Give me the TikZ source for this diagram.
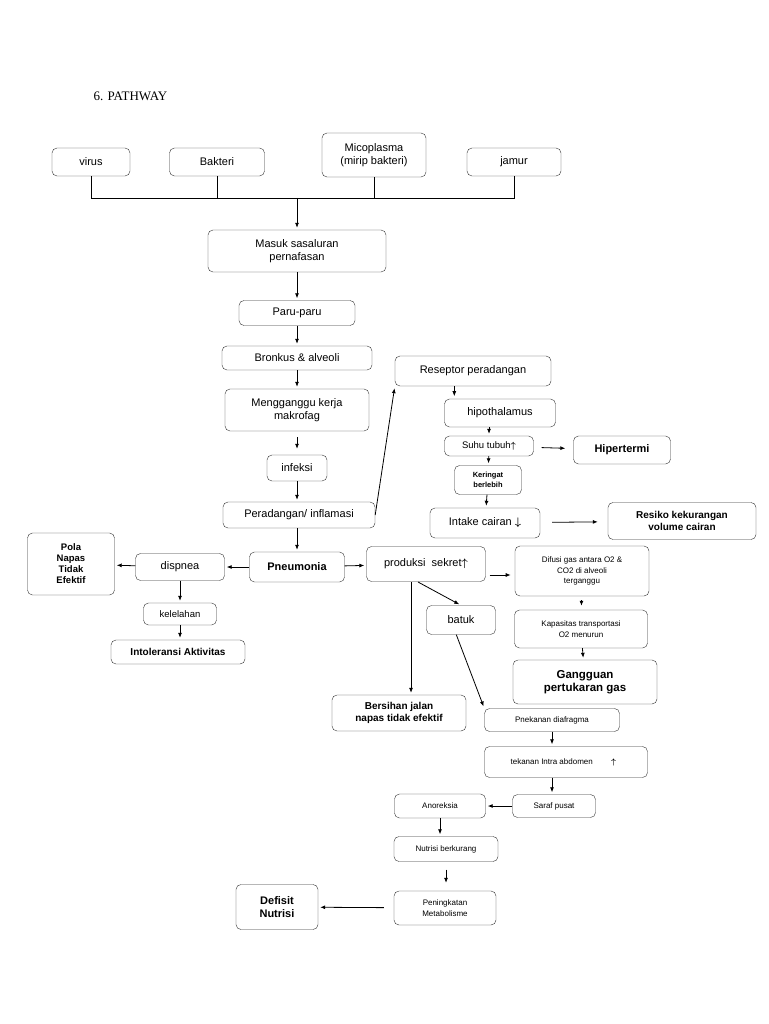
\documentclass[tikz,border=0pt]{standalone}
\usepackage{amsmath}
\usepackage{fontspec}
\setmainfont{Liberation Sans}
\newfontfamily\titlefont{Liberation Serif}
\usetikzlibrary{arrows.meta}
\tikzset{
  box/.style={draw=black!80,rounded corners=5pt,align=center,inner sep=1pt,font=\fontsize{11}{13}\selectfont},
  sbox/.style={box,font=\fontsize{8}{10.5}\selectfont},
  bbox/.style={box,font=\fontsize{11}{13}\selectfont\bfseries},
  arr/.style={-{Latex[length=5pt,width=4pt]},thick,shorten >=2pt},
}
\begin{document}
\begin{tikzpicture}[x=1pt,y=-1pt]
\useasboundingbox (0,0) rectangle (768,1024);
\node[anchor=west,font=\titlefont\fontsize{13}{15}\selectfont] (title) at (90,96) {6. PATHWAY};

% Causes
\node[box,minimum width=78,minimum height=28] (virus) at (91,162) {virus};
\node[box,minimum width=95,minimum height=28] (bakteri) at (217,162) {Bakteri};
\node[box,minimum width=104,minimum height=44] (mico) at (374,155) {Micoplasma\\(mirip bakteri)};
\node[box,minimum width=94,minimum height=28] (jamur) at (514,162) {jamur};
\coordinate (busL) at (91,198);
\coordinate (busR) at (514,198);
\coordinate (busM) at (297,198);
\draw[thick] (virus.south) -- (busL) -- (busR) -- (jamur.south);
\draw[thick] (bakteri.south) -- (bakteri.south |- busL);
\draw[thick] (mico.south) -- (mico.south |- busL);

% Main column
\node[box,minimum width=178,minimum height=42] (masuk) at (297,251) {Masuk sasaluran\\pernafasan};
\node[box,minimum width=116,minimum height=25] (paru) at (297,313) {Paru-paru};
\node[box,minimum width=150,minimum height=24] (bronkus) at (297,358) {Bronkus \& alveoli};
\node[box,minimum width=144,minimum height=42] (makro) at (297,410) {Mengganggu kerja\\makrofag};
\node[box,minimum width=60,minimum height=26] (infeksi) at (297,468) {infeksi};
\node[box,minimum width=152,minimum height=26] (radang) at (299,515) {Peradangan/ inflamasi};
\node[bbox,minimum width=95,minimum height=30] (pneu) at (297,567) {Pneumonia};
\draw[arr] (busM) -- (busM |- masuk.north);
\draw[arr] (masuk) -- (paru);
\draw[arr] (paru) -- (bronkus);
\draw[arr] (bronkus) -- (makro);
\draw[arr,shorten <=6pt,shorten >=6pt] (makro) -- (infeksi);
\draw[arr] (infeksi) -- (infeksi |- radang.north);
\draw[arr] (pneu |- radang.south) -- (pneu);

% Left branch
\node[box,minimum width=89,minimum height=27] (dispnea) at (180,567) {dispnea};
\node[bbox,minimum width=87,minimum height=62,font=\fontsize{9.5}{11}\selectfont\bfseries] (pola) at (71,564) {Pola\\Napas\\Tidak\\Efektif};
\node[box,minimum width=73,minimum height=22,font=\fontsize{9.5}{11}\selectfont] (lelah) at (180,614) {kelelahan};
\node[bbox,minimum width=134,minimum height=24,font=\fontsize{10}{12}\selectfont\bfseries] (intol) at (178,652) {Intoleransi Aktivitas};
\draw[arr] (pneu) -- (dispnea);
\draw[arr] (dispnea) -- (pola);
\draw[arr] (dispnea) -- (lelah);
\draw[arr] (lelah) -- (lelah |- intol.north);

% Fever branch
\node[box,minimum width=156,minimum height=30] (reseptor) at (473,371) {Reseptor peradangan};
\node[box,minimum width=111,minimum height=28] (hipo) at (500,413) {hipothalamus};
\node[box,minimum width=89,minimum height=20,font=\fontsize{9.5}{11}\selectfont] (suhu) at (489,446) {Suhu tubuh$\boldsymbol{\uparrow}$};
\node[bbox,minimum width=97,minimum height=28] (hiper) at (622,450) {Hipertermi};
\node[sbox,minimum width=67,minimum height=29,font=\fontsize{7.5}{9.5}\selectfont\bfseries] (keringat) at (488,480) {Keringat\\berlebih};
\node[box,minimum width=110,minimum height=30] (intake) at (485,523) {Intake cairan $\boldsymbol{\downarrow}$};
\node[bbox,minimum width=148,minimum height=37,font=\fontsize{10}{12}\selectfont\bfseries] (resiko) at (682,521) {Resiko kekurangan\\volume cairan};
\draw[arr] (radang.east) -- (reseptor.south west);
\draw[arr] (reseptor.south -| hipo.north west) ++(10,0) -- ++(0,12);
\draw[arr] (hipo.south -| suhu) -- (suhu);
\draw[arr] (suhu) -- (keringat);
\draw[arr] (keringat) -- (intake);
\draw[arr,shorten <=8pt,shorten >=8pt] (suhu) -- (hiper);
\draw[arr,shorten <=12pt,shorten >=10pt] (intake) -- (resiko);

% Secretion branch
\node[box,minimum width=119,minimum height=35] (sekret) at (426,564) {produksi\ \ sekret$\boldsymbol{\uparrow}$};
\node[sbox,minimum width=134,minimum height=50] (difusi) at (582,571) {Difusi gas antara O2 \&\\CO2 di alveoli\\terganggu};
\node[box,minimum width=69,minimum height=29] (batuk) at (461,620) {batuk};
\node[sbox,minimum width=133,minimum height=38] (kapasitas) at (581,629) {Kapasitas transportasi\\O2 menurun};
\node[bbox,minimum width=144,minimum height=44,font=\fontsize{11.5}{13.5}\selectfont\bfseries] (gangguan) at (585,682) {Gangguan\\pertukaran gas};
\node[bbox,minimum width=134,minimum height=36,font=\fontsize{10}{12}\selectfont\bfseries] (bersihan) at (399,713) {Bersihan jalan\\napas tidak efektif};
\coordinate (sekretS) at (411,582);
\coordinate (batukA) at (418,582);
\draw[arr] (pneu) -- (sekret);
\draw[arr,shorten <=4pt] (sekret.east |- difusi) ++(0,4) -- ++(27,0);
\draw[arr] (sekretS) -- (sekretS |- bersihan.north);
\draw[arr] (batukA) -- (batuk.north);
\draw[arr,shorten <=4pt,shorten >=4pt] (difusi) -- (kapasitas);
\draw[arr] (kapasitas) -- (gangguan);

% Lower chain
\node[sbox,minimum width=135,minimum height=23] (diafragma) at (552,720) {Pnekanan diafragma};
\node[sbox,minimum width=163,minimum height=31] (abdomen) at (566,762) {tekanan Intra abdomen \qquad$\boldsymbol{\uparrow}$};
\node[sbox,minimum width=83,minimum height=23] (saraf) at (554,806) {Saraf pusat};
\node[sbox,minimum width=91,minimum height=24] (anoreksia) at (440,806) {Anoreksia};
\node[sbox,minimum width=104,minimum height=25] (nutrisi) at (446,849) {Nutrisi berkurang};
\node[sbox,minimum width=102,minimum height=34] (meta) at (445,908) {Peningkatan\\Metabolisme};
\node[bbox,minimum width=82,minimum height=45] (defisit) at (277,907) {Defisit\\Nutrisi};
\draw[arr] (batuk.south west) ++(30,0) -- (diafragma.north west);
\draw[arr] (diafragma) -- (diafragma |- abdomen.north);
\draw[arr] (diafragma |- abdomen.south) -- (diafragma |- saraf.north);
\draw[arr] (saraf) -- (anoreksia);
\draw[arr] (anoreksia) -- (anoreksia |- nutrisi.north);
\draw[arr,shorten <=8pt,shorten >=8pt] (nutrisi) -- (nutrisi |- meta.north);
\draw[arr,shorten <=10pt] (meta) -- (defisit);
\end{tikzpicture}
\end{document}
